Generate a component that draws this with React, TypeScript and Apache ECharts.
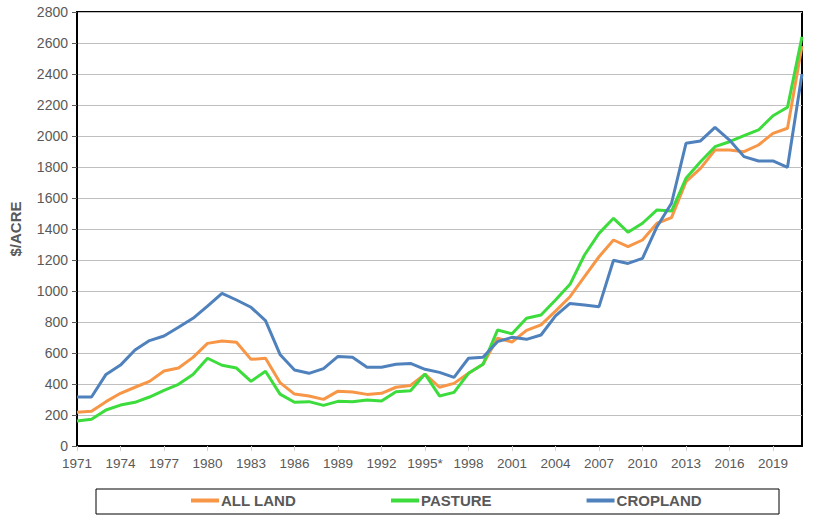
import React, { useEffect, useRef } from "react";
import * as echarts from "echarts";

const years = [
  "1971","1972","1973","1974","1975","1976","1977","1978","1979","1980",
  "1981","1982","1983","1984","1985","1986","1987","1988","1989","1990",
  "1991","1992","1993","1994","1995*","1996","1997","1998","1999","2000",
  "2001","2002","2003","2004","2005","2006","2007","2008","2009","2010",
  "2011","2012","2013","2014","2015","2016","2017","2018","2019","2020",
  "2021",
];

const allLand = [
  217, 224, 286, 340, 379, 417, 484, 503, 572, 662,
  677, 669, 559, 566, 409, 335, 323, 301, 354, 348,
  333, 340, 379, 391, 464, 379, 404, 469, 527, 695,
  671, 746, 781, 870, 963, 1092, 1221, 1329, 1286, 1329,
  1437, 1473, 1705, 1791, 1910, 1910, 1899, 1942, 2017, 2050,
  2580,
];

const pasture = [
  161, 172, 232, 264, 282, 316, 359, 398, 462, 566,
  521, 503, 417, 482, 335, 282, 286, 262, 288, 286,
  297, 290, 350, 357, 464, 323, 346, 469, 527, 748,
  724, 824, 845, 942, 1043, 1232, 1372, 1469, 1379, 1437,
  1523, 1516, 1727, 1834, 1931, 1963, 2002, 2039, 2131, 2185,
  2640,
];

const cropland = [
  316, 316, 462, 522, 619, 680, 710, 766, 824, 903,
  985, 942, 895, 809, 591, 490, 469, 499, 578, 572,
  508, 508, 527, 533, 495, 475, 443, 566, 572, 673,
  701, 688, 716, 840, 920, 910, 899, 1198, 1178, 1211,
  1415, 1566, 1953, 1968, 2056, 1974, 1867, 1839, 1839, 1798,
  2400,
];

const seriesNames = ["ALL LAND", "PASTURE", "CROPLAND"];
const seriesColors = ["#F79646", "#3CDC3C", "#4F81BD"];

export default function App() {
  const ref = useRef<HTMLDivElement>(null);

  useEffect(() => {
    document.body.style.margin = "0";
    if (!ref.current) return;
    const chart = echarts.init(ref.current, undefined, { renderer: "svg" });
    const font = "Liberation Sans, Arial, sans-serif";
    const values = [allLand, pasture, cropland];
    chart.setOption({
      animation: false,
      grid: {
        left: 75,
        right: 13,
        top: 12,
        bottom: 77,
        show: true,
        borderColor: "#000",
        borderWidth: 2,
      },
      xAxis: {
        type: "category",
        data: years,
        boundaryGap: false,
        axisLine: { lineStyle: { color: "#000", width: 2 } },
        axisTick: {
          interval: 2,
          length: 5,
          lineStyle: { color: "#d0d0d0" },
        },
        axisLabel: {
          interval: 2,
          color: "#595959",
          fontSize: 13.5,
          fontFamily: font,
          margin: 10,
        },
        splitLine: { show: false },
      },
      yAxis: {
        type: "value",
        min: 0,
        max: 2800,
        interval: 200,
        name: "$/ACRE",
        nameLocation: "middle",
        nameGap: 54,
        nameTextStyle: {
          color: "#595959",
          fontSize: 15,
          fontWeight: "bold",
          fontFamily: font,
        },
        axisLine: { show: true, lineStyle: { color: "#000", width: 2 } },
        axisTick: { show: true, length: 5, lineStyle: { color: "#595959" } },
        axisLabel: {
          color: "#595959",
          fontSize: 14,
          fontFamily: font,
          margin: 9,
          formatter: (v: number) => String(v),
        },
        splitLine: { lineStyle: { color: "#bfbfbf", width: 1 } },
      },
      legend: {
        left: 191,
        top: 493,
        itemGap: 95,
        itemWidth: 28,
        itemHeight: 4,
        icon: "rect",
        padding: 0,
        textStyle: {
          color: "#595959",
          fontSize: 15,
          fontWeight: "bold",
          fontFamily: font,
          padding: [0, 0, 0, -3],
        },
        data: seriesNames,
      },
      graphic: [
        {
          type: "rect",
          shape: { x: 96, y: 489, width: 683, height: 25 },
          style: { fill: "none", stroke: "#000", lineWidth: 1 },
          silent: true,
        },
      ],
      series: seriesNames.map((name, i) => ({
        name,
        type: "line",
        data: values[i],
        showSymbol: false,
        symbol: "none",
        lineStyle: { color: seriesColors[i], width: 3 },
        itemStyle: { color: seriesColors[i] },
        z: 2 + i,
      })),
    });
    return () => chart.dispose();
  }, []);

  return <div ref={ref} style={{ width: 815, height: 523 }} />;
}
